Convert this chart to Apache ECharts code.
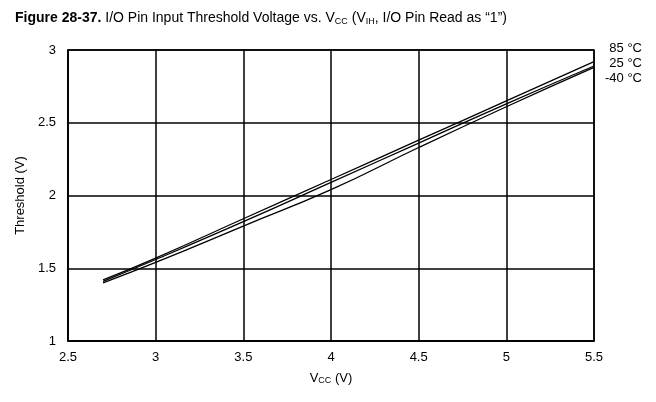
<!DOCTYPE html>
<html><head><meta charset="utf-8">
<script src="https://cdn.jsdelivr.net/npm/echarts@6/dist/echarts.min.js"></script>
<style>html,body{margin:0;background:#fff}#c{width:656px;height:402px}</style>
</head><body><div id="c"></div>
<script>
// Vcc points and threshold per temperature
const vcc = [2.7, 3, 3.5, 4, 4.5, 5, 5.5];
const t85 = [1.42, 1.57, 1.84, 2.11, 2.38, 2.65, 2.92];
const t25 = [1.41, 1.56, 1.82, 2.09, 2.36, 2.63, 2.89];
const tm40 = [1.40, 1.54, 1.79, 2.04, 2.33, 2.61, 2.88];
const labels = ['85 °C', '25 °C', '-40 °C'];

const chart = echarts.init(document.getElementById('c'));
const font = 'Liberation Sans';
const mk = (name, ys) => ({
  name, type: 'line', symbol: 'none', smooth: true,
  data: vcc.map((x, i) => [x, ys[i]]),
  lineStyle: { color: '#000', width: 1.3 }
});
chart.setOption({
  textStyle: { fontFamily: font },
  animation: false,
  title: {
    left: 10, top: 6,
    text: '{b|Figure 28-37.} I/O Pin Input Threshold Voltage vs. V{s|CC} (V{s|IH}, I/O Pin Read as “1”)',
    textStyle: {
      fontSize: 14, fontWeight: 'normal', color: '#000', fontFamily: font,
      rich: { b: { fontWeight: 'bold', fontSize: 14, fontFamily: font }, s: { fontSize: 9, verticalAlign: 'bottom', padding: [6, 0, 0, 0], fontFamily: font } }
    }
  },
  grid: { left: 68, right: 62, top: 50, bottom: 61 },
  xAxis: {
    type: 'value', min: 2.5, max: 5.5, interval: 0.5,
    name: 'V{s|CC} (V)', nameLocation: 'middle', nameGap: 30,
    nameTextStyle: { fontSize: 13, color: '#000', rich: { s: { fontSize: 9, padding: [5, 0, 0, 0] } } },
    axisLine: { lineStyle: { color: '#000', width: 1.5 } },
    axisTick: { show: false },
    axisLabel: { color: '#000', fontSize: 13, margin: 10 },
    splitLine: { lineStyle: { color: '#000', width: 1.5 } }
  },
  yAxis: {
    type: 'value', min: 1, max: 3, interval: 0.5,
    name: 'Threshold (V)', nameLocation: 'middle', nameGap: 34,
    nameTextStyle: { fontSize: 13, color: '#000' },
    axisLine: { show: true, lineStyle: { color: '#000', width: 1.5 } },
    axisTick: { show: false },
    axisLabel: { color: '#000', fontSize: 13, margin: 12 },
    splitLine: { lineStyle: { color: '#000', width: 1.5 } }
  },
  graphic: labels.map((t, i) => ({
    type: 'text', right: 14, top: 42 + i * 15,
    style: { text: t, fill: '#000', font: '13px ' + font }
  })).concat([{
    type: 'rect', shape: { x: 68, y: 50, width: 526, height: 291 },
    style: { fill: 'none', stroke: '#000', lineWidth: 1.5 }
  }]),
  series: [mk(labels[0], t85), mk(labels[1], t25), mk(labels[2], tm40)]
});
</script></body></html>
